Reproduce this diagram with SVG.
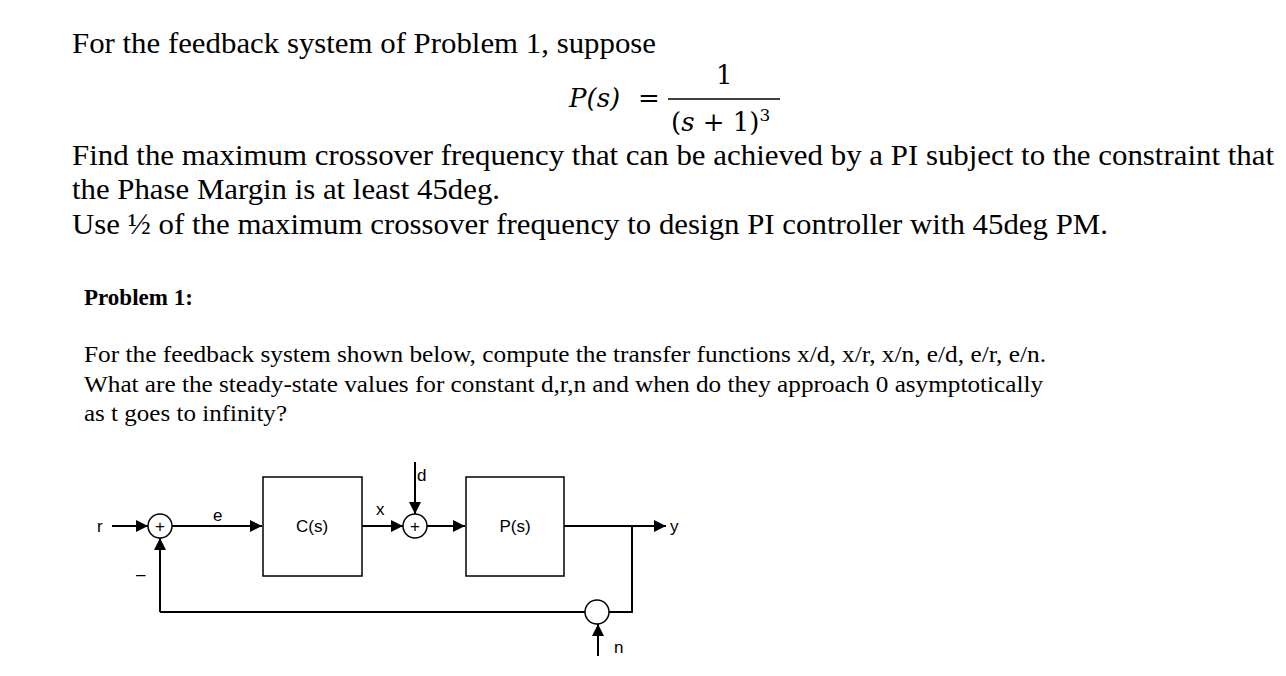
<svg xmlns="http://www.w3.org/2000/svg" width="1286" height="676" viewBox="0 0 1286 676">
<defs>
<style>
.t{font-family:"Liberation Serif",serif;font-size:29px;fill:#000}
.p{font-family:"Liberation Serif",serif;font-size:23px;fill:#000}
.m{font-family:"DejaVu Serif","Liberation Serif",serif;font-size:26px;fill:#000}
.s{font-family:"Liberation Sans",Arial,sans-serif;font-size:17px;fill:#000}
.l{stroke:#000;stroke-width:2;fill:none}
.b{stroke:#000;stroke-width:1.5;fill:#fff}
</style>
<marker id="a" viewBox="0 0 10 10" refX="10" refY="5" markerWidth="6" markerHeight="6" orient="auto" markerUnits="strokeWidth"><path d="M0,0L10,5L0,10z" fill="#000"/></marker>
</defs>
<rect width="1286" height="676" fill="#fff"/>
<text class="t" x="72" y="53" textLength="584" lengthAdjust="spacingAndGlyphs">For the feedback system of Problem 1, suppose</text>
<text class="m" x="569" y="107" font-style="italic">P(s)</text>
<text class="m" x="638" y="107">=</text>
<text class="m" x="716" y="84">1</text>
<line x1="668" y1="99" x2="780" y2="99" stroke="#000" stroke-width="1.5"/>
<text class="m" x="671" y="131">(<tspan font-style="italic">s</tspan> + 1)<tspan font-size="17" dy="-10">3</tspan></text>
<text class="t" x="72" y="165" textLength="1202" lengthAdjust="spacingAndGlyphs">Find the maximum crossover frequency that can be achieved by a PI subject to the constraint that</text>
<text class="t" x="72" y="199" textLength="428" lengthAdjust="spacingAndGlyphs">the Phase Margin is at least 45deg.</text>
<text class="t" x="72" y="234" textLength="1036" lengthAdjust="spacingAndGlyphs">Use ½ of the maximum crossover frequency to design PI controller with 45deg PM.</text>
<text class="p" x="84" y="305" font-weight="bold">Problem 1:</text>
<text class="p" x="84" y="362" textLength="962" lengthAdjust="spacingAndGlyphs">For the feedback system shown below, compute the transfer functions x/d, x/r, x/n, e/d, e/r, e/n.</text>
<text class="p" x="84" y="392" textLength="959" lengthAdjust="spacingAndGlyphs">What are the steady-state values for constant d,r,n and when do they approach 0 asymptotically</text>
<text class="p" x="84" y="421" textLength="203" lengthAdjust="spacingAndGlyphs">as t goes to infinity?</text>
<g id="connectors">
<line class="l" x1="112" y1="526" x2="148" y2="526" marker-end="url(#a)"/>
<line class="l" x1="172" y1="526" x2="262" y2="526" marker-end="url(#a)"/>
<line class="l" x1="362" y1="526" x2="403" y2="526" marker-end="url(#a)"/>
<line class="l" x1="415" y1="462" x2="415" y2="514" marker-end="url(#a)"/>
<line class="l" x1="427" y1="526" x2="465" y2="526" marker-end="url(#a)"/>
<line class="l" x1="564" y1="526" x2="666" y2="526" marker-end="url(#a)"/>
<polyline class="l" points="632,526 632,612 609,612"/>
<line class="l" x1="585" y1="612" x2="160" y2="612"/>
<line class="l" x1="160" y1="612" x2="160" y2="538" marker-end="url(#a)"/>
<line class="l" x1="598" y1="656" x2="598" y2="624" marker-end="url(#a)"/>
</g>
<g id="sum1"><circle class="b" cx="160" cy="526" r="12"/><text class="s" x="160" y="532" text-anchor="middle" font-size="15">+</text></g>
<g id="sum2"><circle class="b" cx="415" cy="526" r="12"/><text class="s" x="415" y="532" text-anchor="middle" font-size="15">+</text></g>
<g id="C"><rect class="b" x="263" y="477" width="99" height="99"/><text class="s" x="312" y="532" text-anchor="middle">C(s)</text></g>
<g id="P"><rect class="b" x="466" y="477" width="98" height="99"/><text class="s" x="515" y="532" text-anchor="middle">P(s)</text></g>
<g id="nsum"><circle class="b" cx="597" cy="612" r="12"/></g>
<g id="labels">
<text class="s" x="97" y="532">r</text>
<text class="s" x="213" y="521">e</text>
<text class="s" x="376" y="515">x</text>
<text class="s" x="417" y="481">d</text>
<text class="s" x="670" y="532">y</text>
<text class="s" x="614" y="653">n</text>
<text class="s" x="136" y="580">–</text>
</g>
</svg>
